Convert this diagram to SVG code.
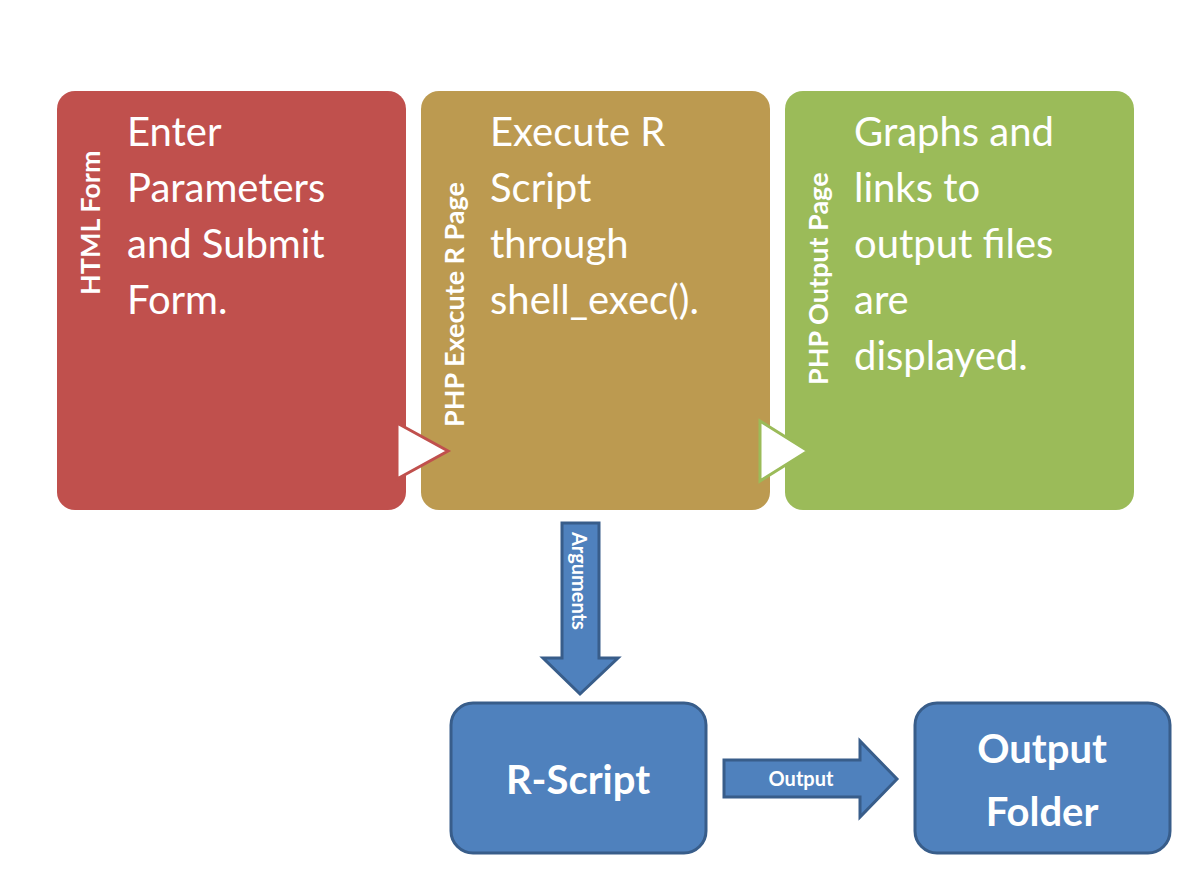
<svg xmlns="http://www.w3.org/2000/svg" width="1183" height="879" viewBox="0 0 1183 879">
<style>
.b{font-family:Lato,"Open Sans",sans-serif;fill:#fff}
.t{font-size:40px}
.v{font-size:27px;font-weight:bold}
.bl{fill:#4f81bd;stroke:#385d8a;stroke-width:3}
</style>
<rect width="1183" height="879" fill="#fff"/>
<g id="html-form">
<rect x="57" y="91" width="349" height="419" rx="18" fill="#c0504d"/>
<text class="b v" transform="translate(100,295) rotate(-90)">HTML Form</text>
<text class="b t" x="127" y="146">Enter</text>
<text class="b t" x="127" y="202">Parameters</text>
<text class="b t" x="127" y="258">and Submit</text>
<text class="b t" x="127" y="314">Form.</text>
</g>
<g id="php-execute">
<rect x="421" y="91" width="349" height="419" rx="18" fill="#bc9a50"/>
<text class="b v" transform="translate(464,427) rotate(-90)">PHP Execute R Page</text>
<text class="b t" x="490" y="146">Execute R</text>
<text class="b t" x="490" y="202">Script</text>
<text class="b t" x="490" y="258">through</text>
<text class="b t" x="490" y="314">shell_exec().</text>
</g>
<g id="php-output">
<rect x="785" y="91" width="349" height="419" rx="18" fill="#9bbb59"/>
<text class="b v" transform="translate(828,385) rotate(-90)">PHP Output Page</text>
<text class="b t" x="854" y="146">Graphs and</text>
<text class="b t" x="854" y="202">links to</text>
<text class="b t" x="854" y="258">output files</text>
<text class="b t" x="854" y="314">are</text>
<text class="b t" x="854" y="370">displayed.</text>
</g>
<g id="r-script">
<rect class="bl" x="451" y="703" width="255" height="150" rx="22"/>
<text class="b" x="578" y="794" font-size="40" font-weight="bold" text-anchor="middle">R-Script</text>
</g>
<g id="output-folder">
<rect class="bl" x="915" y="703" width="255" height="150" rx="22"/>
<text class="b" x="1042" y="763" font-size="40" font-weight="bold" text-anchor="middle">Output</text>
<text class="b" x="1042" y="826" font-size="40" font-weight="bold" text-anchor="middle">Folder</text>
</g>
<g id="connectors">
<polygon points="397,423 448,451 397,479" fill="#fff" stroke="#c0504d" stroke-width="3"/>
<polygon points="760,421 808,451 760,481" fill="#fff" stroke="#9bbb59" stroke-width="3"/>
<polygon class="bl" points="562,523 599,523 599,658 618,658 580,694 543,658 562,658"/>
<text class="b" transform="translate(572,532) rotate(90)" font-size="20" font-weight="bold">Arguments</text>
<polygon class="bl" points="724,760 860,760 860,741 897,779 860,817 860,797 724,797"/>
<text class="b" x="801" y="786" font-size="20" font-weight="bold" text-anchor="middle">Output</text>
</g>
</svg>
